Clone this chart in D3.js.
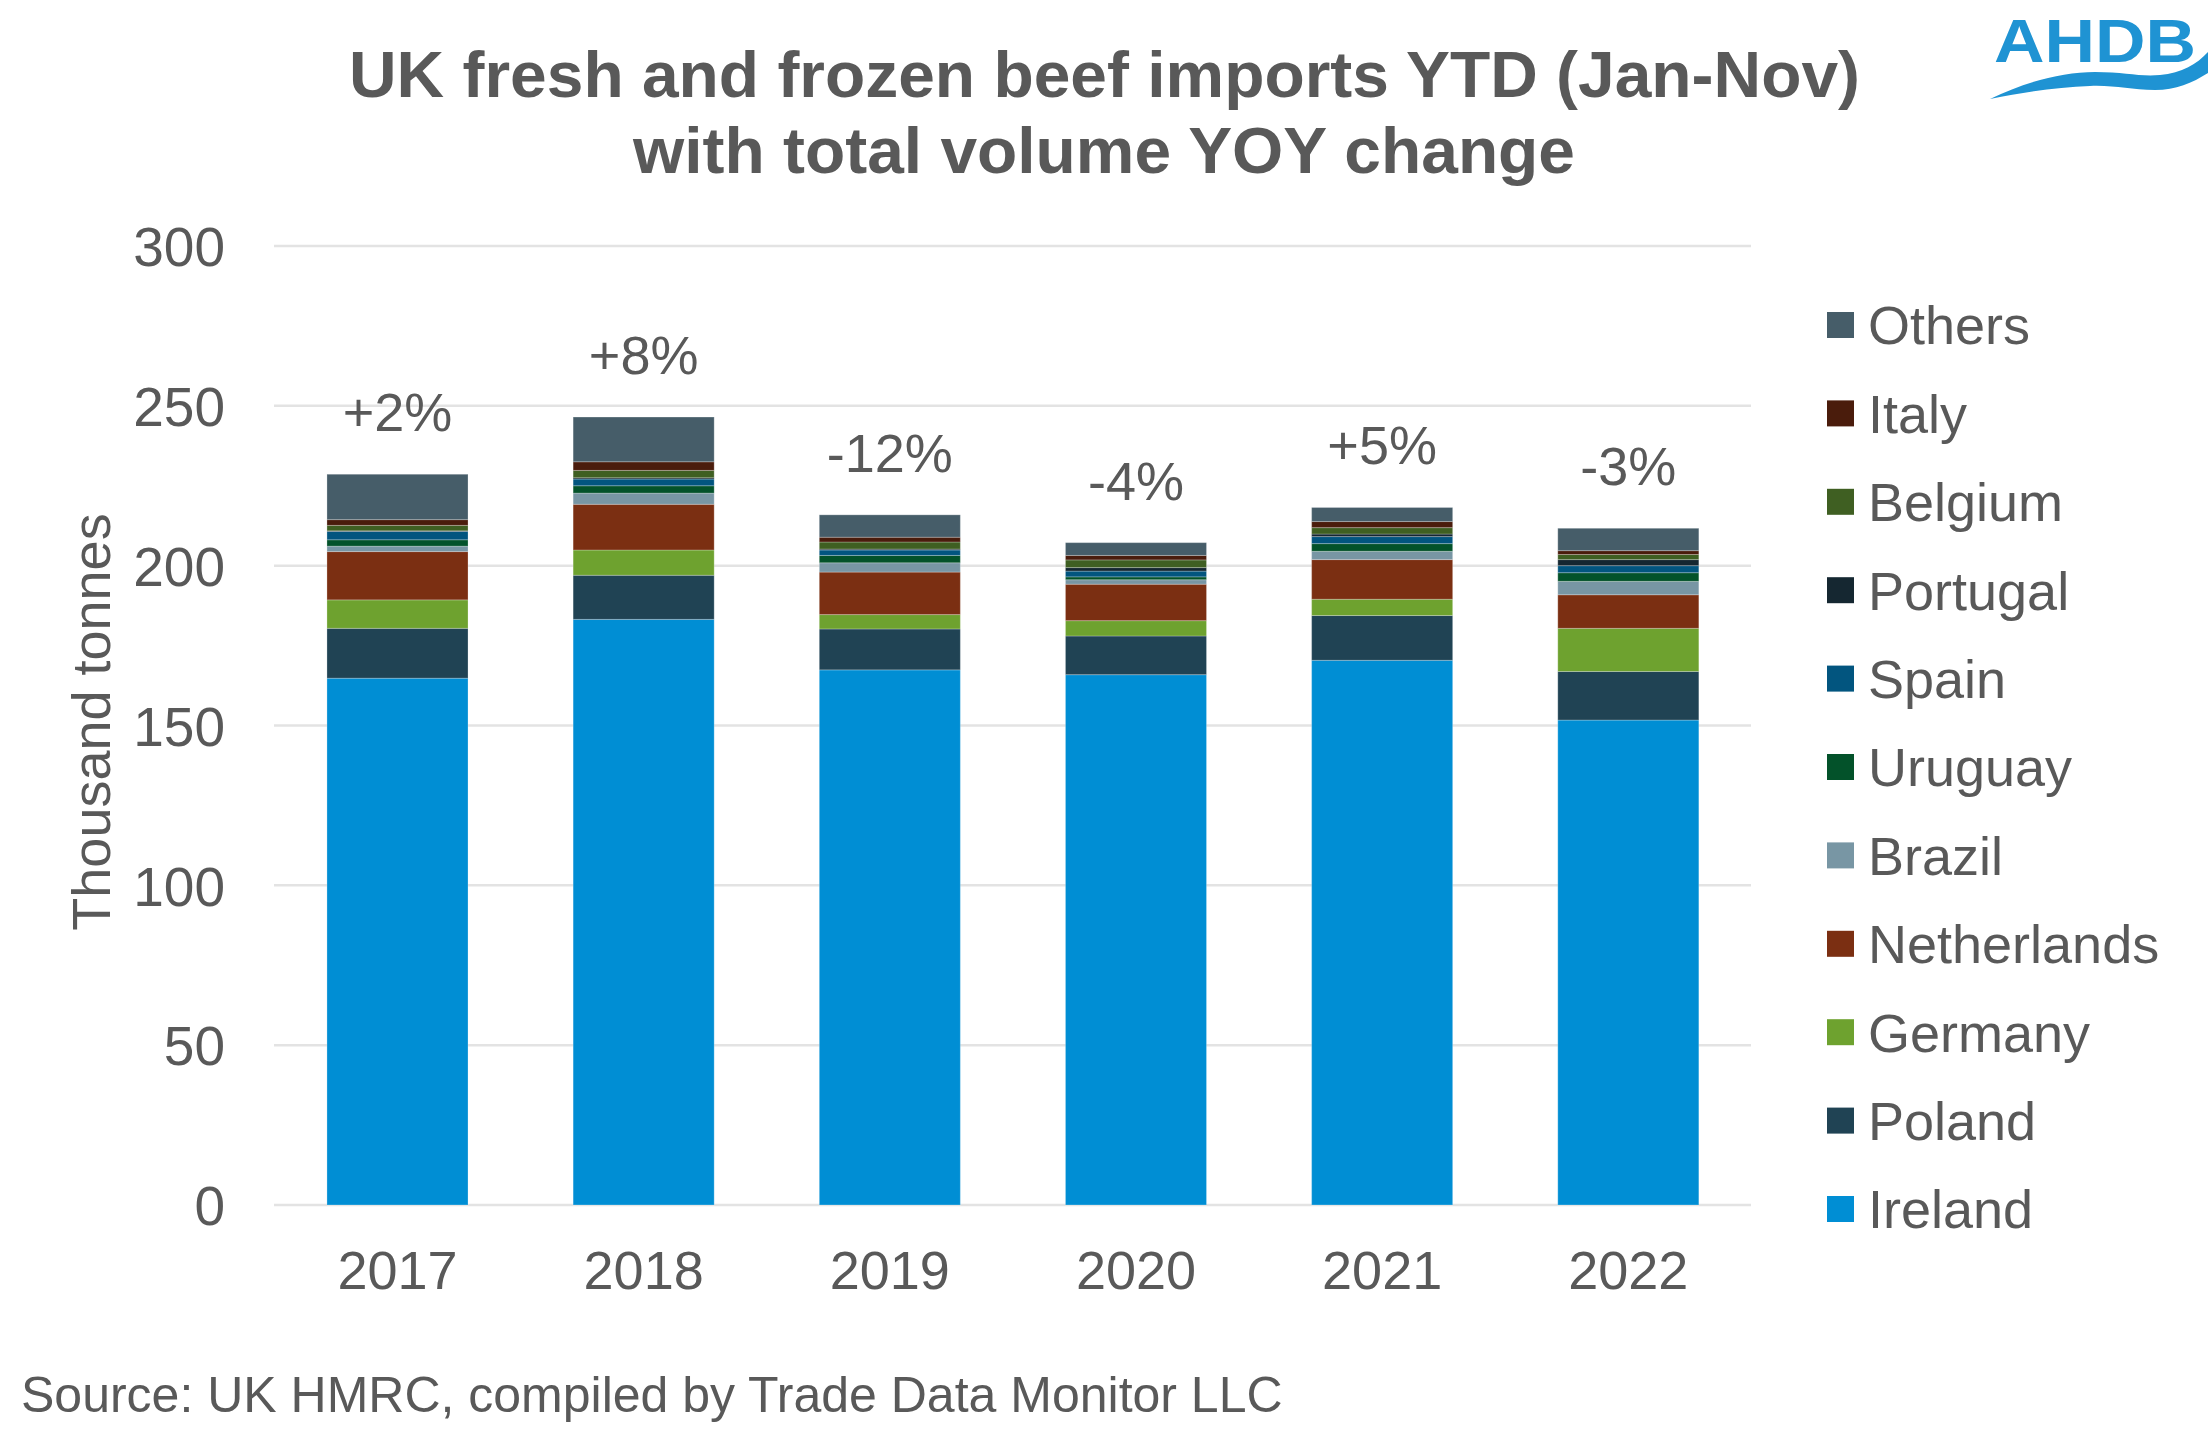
<!DOCTYPE html>
<html lang="en">
<head>
<meta charset="utf-8">
<title>UK fresh and frozen beef imports YTD</title>
<script src="https://d3js.org/d3.v7.min.js"></script>
<style type="text/css">
  body { margin: 0; background: #fff; }
  text { font-family: "Liberation Sans", Arial, sans-serif; fill: #595959; }
</style>
</head>
<body>
<script type="text/javascript">
// Width and height
var w = 2209;
var h = 1429;

// data, thousand tonnes
var years = ["2017", "2018", "2019", "2020", "2021", "2022"];
var countries = ["Ireland", "Poland", "Germany", "Netherlands", "Brazil", "Uruguay",
                 "Spain", "Portugal", "Belgium", "Italy", "Others"];
var ireland     = [164.8, 183.2, 167.4, 165.9, 170.4, 151.7];
var poland      = [15.6, 13.8, 12.8, 12.1, 14.0, 15.2];
var germany     = [8.9, 7.9, 4.5, 4.8, 5.1, 13.5];
var netherlands = [15.1, 14.3, 13.3, 11.4, 12.4, 10.5];
var brazil      = [1.7, 3.5, 2.9, 1.4, 2.6, 4.2];
var uruguay     = [2.0, 2.3, 2.3, 0.9, 2.4, 2.7];
var spain       = [2.6, 2.1, 1.7, 1.8, 2.2, 2.2];
var portugal    = [0.2, 0.4, 0.3, 1.1, 0.8, 1.9];
var belgium     = [1.7, 2.3, 2.2, 2.4, 2.0, 1.6];
var italy       = [1.8, 2.7, 1.5, 1.4, 1.9, 1.2];
var others      = [14.2, 14.0, 7.0, 4.0, 4.4, 7.0];
var yoyLabels   = ["+2%", "+8%", "-12%", "-4%", "+5%", "-3%"];
var yTicks      = [0, 50, 100, 150, 200, 250, 300];

var colours = ["#008ed4", "#204354", "#6ea22f", "#7b2f12", "#7896a4", "#03522a",
               "#02557f", "#152731", "#3f5f22", "#4a1c0c", "#465d69"];

var series = [ireland, poland, germany, netherlands, brazil, uruguay,
              spain, portugal, belgium, italy, others];

// build rows for d3.stack
var rows = years.map(function(y, i) {
  var r = { year: y };
  countries.forEach(function(c, j) { r[c] = series[j][i]; });
  return r;
});
var stacked = d3.stack().keys(countries)(rows);

var svg = d3.select("body").append("svg")
  .attr("width", w)
  .attr("height", h);

// scales
var x = d3.scaleBand()
  .domain(years)
  .range([274.4, 1751.4])
  .paddingInner(0.427)
  .paddingOuter(0.2135);

var y = d3.scaleLinear()
  .domain([0, 300])
  .range([1205, 246]);

var color = d3.scaleOrdinal().domain(countries).range(colours);

// gridlines
svg.append("g")
  .selectAll("line")
  .data(yTicks)
  .enter()
  .append("line")
  .attr("x1", 274)
  .attr("x2", 1751)
  .attr("y1", function(d) { return y(d); })
  .attr("y2", function(d) { return y(d); })
  .style("stroke", "#e3e3e3")
  .style("stroke-width", 2.5);

// y axis labels
var yAxis = d3.axisLeft(y).tickValues(yTicks).tickSize(0).tickPadding(0);
var gy = svg.append("g").attr("transform", "translate(225,0)").call(yAxis);
gy.select(".domain").remove();
gy.selectAll("text")
  .style("font-size", "55px")
  .style("font-family", "Liberation Sans, Arial, sans-serif")
  .attr("fill", "#595959")
  .attr("dy", "0.36em");

// x axis labels
var xAxis = d3.axisBottom(x).tickSize(0).tickPadding(0);
var gx = svg.append("g").attr("transform", "translate(0,1289)").call(xAxis);
gx.select(".domain").remove();
gx.selectAll("text")
  .style("font-size", "54px")
  .style("font-family", "Liberation Sans, Arial, sans-serif")
  .attr("fill", "#595959")
  .attr("dy", 0)
  .attr("y", 0);

// stacked bars
svg.append("g")
  .selectAll("g")
  .data(stacked)
  .enter()
  .append("g")
  .style("fill", function(d) { return color(d.key); })
  .selectAll("rect")
  .data(function(d) { return d; })
  .enter()
  .append("rect")
  .attr("x", function(d) { return x(d.data.year); })
  .attr("width", x.bandwidth())
  .attr("y", function(d) { return y(d[1]); })
  .attr("height", function(d) { return y(d[0]) - y(d[1]); })
  .style("stroke", "rgba(255,255,255,0.25)")
  .style("stroke-width", 1);

// YOY labels above each bar
var totals = stacked[stacked.length - 1].map(function(d) { return d[1]; });
svg.append("g")
  .selectAll("text")
  .data(years)
  .enter()
  .append("text")
  .attr("x", function(d) { return x(d) + x.bandwidth() / 2; })
  .attr("y", function(d, i) { return y(totals[i]) - 43; })
  .attr("text-anchor", "middle")
  .style("font-size", "54px")
  .text(function(d, i) { return yoyLabels[i]; });

// y axis title
svg.append("text")
  .attr("transform", "translate(110,722) rotate(-90)")
  .attr("text-anchor", "middle")
  .style("font-size", "54px")
  .text("Thousand tonnes");

// legend, top item is Others
var legendItems = countries.slice().reverse();
var legend = svg.append("g")
  .selectAll("g")
  .data(legendItems)
  .enter()
  .append("g")
  .attr("transform", function(d, i) { return "translate(1827," + (325 + i * 88.4) + ")"; });
legend.append("rect")
  .attr("x", 0)
  .attr("y", -13)
  .attr("width", 27)
  .attr("height", 26)
  .style("fill", function(d) { return color(d); });
legend.append("text")
  .attr("x", 41)
  .attr("y", 0)
  .attr("dy", "0.36em")
  .style("font-size", "54px")
  .text(function(d) { return d; });

// title
svg.append("text")
  .attr("x", 349).attr("y", 97)
  .attr("textLength", 1511).attr("lengthAdjust", "spacingAndGlyphs")
  .style("font-size", "64px").style("font-weight", "bold")
  .text("UK fresh and frozen beef imports YTD (Jan-Nov)");
svg.append("text")
  .attr("x", 633).attr("y", 173)
  .attr("textLength", 942).attr("lengthAdjust", "spacingAndGlyphs")
  .style("font-size", "64px").style("font-weight", "bold")
  .text("with total volume YOY change");

// source
svg.append("text")
  .attr("x", 21).attr("y", 1412)
  .style("font-size", "50px")
  .text("Source: UK HMRC, compiled by Trade Data Monitor LLC");

// AHDB logo
svg.append("text")
  .attr("x", 1994).attr("y", 62)
  .attr("textLength", 202).attr("lengthAdjust", "spacingAndGlyphs")
  .style("font-size", "62px").style("font-weight", "bold")
  .style("fill", "#1f93d3")
  .text("AHDB");
svg.append("path")
  .attr("d", "M1990,99 C2025,82 2062,72 2095,72 C2125,72 2140,77 2160,75 C2182,73 2197,64 2208,52 " +
             "L2208,73 C2192,83 2176,90 2155,90 C2130,90 2115,85 2090,86 C2058,87 2025,92 1990,99 Z")
  .style("fill", "#1f93d3");
</script>
</body>
</html>
